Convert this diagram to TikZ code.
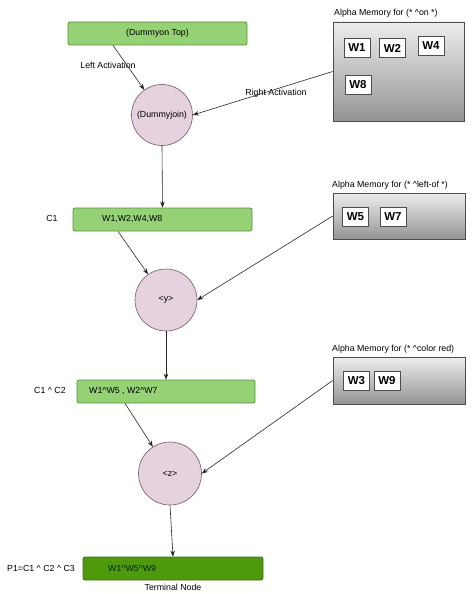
\documentclass[tikz,border=0pt]{standalone}
\usepackage{fontspec}
\setmainfont{Liberation Sans}
\usetikzlibrary{arrows.meta}
\definecolor{lgreen}{HTML}{95D175}
\definecolor{lgreenb}{HTML}{5E8C46}
\definecolor{dgreen}{HTML}{4F9A0C}
\definecolor{dgreenb}{HTML}{3A6E10}
\definecolor{jfill}{HTML}{E6D2DF}
\definecolor{jdraw}{HTML}{6E5A66}
\tikzset{
  txt/.style={font=\fontsize{8.8}{10}\selectfont, inner sep=0pt},
  gbox/.style={draw=lgreenb, fill=lgreen, rounded corners=2pt, line width=0.7pt, minimum height=23pt, inner sep=0pt},
  tbox/.style={draw=dgreenb, fill=dgreen, rounded corners=2pt, line width=0.7pt, minimum height=23pt, inner sep=0pt},
  joinnode/.style={circle, draw=jdraw, fill=jfill, line width=0.6pt, inner sep=0pt},
  amem/.style={draw=black!70, top color=black!7, bottom color=black!42, line width=0.7pt, inner sep=0pt},
  wbox/.style={draw=black!70, fill=white, line width=0.6pt, inner sep=0pt, minimum width=26pt, minimum height=19pt, font=\bfseries\fontsize{11.5}{12}\selectfont},
  conn/.style={draw=black!85, line width=0.6pt, -{Stealth[length=6pt,width=4.5pt]}},
}
\begin{document}
\begin{tikzpicture}[x=1pt,y=-1pt]
\useasboundingbox (0,0) rectangle (474,594);
% top box
\node[gbox, minimum width=179pt] (top) at (157.5,33.5) {};
\node[txt] (toptxt) at (top.center) {(Dummyon Top)};
% join nodes
\node[joinnode, minimum size=61pt] (dj) at (162,115) {};
\node[txt] (djtxt) at (dj.center) {(Dummyjoin)};
\node[joinnode, minimum size=62pt] (yn) at (166,300) {};
\node[txt] (yntxt) at (yn.center) {<y>};
\node[joinnode, minimum size=63pt] (zn) at (170,473.5) {};
\node[txt] (zntxt) at (zn.center) {<z>};
% beta boxes
\node[gbox, minimum width=179pt] (c1) at (162.5,219.5) {};
\node[txt, anchor=west] (c1txt) at (102,219) {W1,W2,W4,W8};
\node[txt] (c1lab) at (52,218) {C1};
\node[gbox, minimum width=178pt] (c2) at (166,391.5) {};
\node[txt, anchor=west] (c2txt) at (89,391) {W1\textasciicircum W5 , W2\textasciicircum W7};
\node[txt] (c2lab) at (50,390) {C1 \textasciicircum{} C2};
\node[tbox, minimum width=180pt] (term) at (173,568.5) {};
\node[txt, anchor=west, text=black!85!green] (termtxt) at (108,568) {W1\textasciicircum W5\textasciicircum W9};
\node[txt] (p1lab) at (41,568) {P1=C1 \textasciicircum{} C2 \textasciicircum{} C3};
\node[txt] (termlab) at (173,587) {Terminal Node};
% labels on connectors
\node[txt] (lact) at (108,65) {Left Activation};
\node[txt] (ract) at (276,93) {Right Activation};
% alpha memories
\node[amem, minimum width=131pt, minimum height=99pt] (a1) at (398.5,71.5) {};
\node[txt, anchor=west] (a1lab) at (334,13.5) {Alpha Memory for (* \textasciicircum on *)};
\node[wbox] (w1) at (357,48) {W1};
\node[wbox] (w2) at (392.5,48) {W2};
\node[wbox] (w4) at (431,45.5) {W4};
\node[wbox] (w8) at (358,84.5) {W8};
\node[amem, minimum width=132pt, minimum height=46pt] (a2) at (399,216) {};
\node[txt, anchor=west] (a2lab) at (332,185) {Alpha Memory for (* \textasciicircum left-of *)};
\node[wbox] (w5) at (355.5,216.5) {W5};
\node[wbox] (w7) at (393,216.5) {W7};
\node[amem, minimum width=132pt, minimum height=47pt] (a3) at (399,380.5) {};
\node[txt, anchor=west] (a3lab) at (332,349) {Alpha Memory for (* \textasciicircum color red)};
\node[wbox] (w3) at (356.5,380.5) {W3};
\node[wbox] (w9) at (387,380.5) {W9};
% connectors
\draw[conn] ([xshift=-44.5pt]top.south) -- (dj);
\draw[conn] (a1.west) -- (dj.east);
\draw[conn] (dj.south) -- (c1.north);
\draw[conn] ([xshift=-44.5pt]c1.south) -- (yn);
\draw[conn] (a2.west) -- (yn.east);
\draw[conn] (yn.south) -- (c2.north);
\draw[conn] ([xshift=-41pt]c2.south) -- (zn);
\draw[conn] (a3.west) -- (zn.east);
\draw[conn] (zn.south) -- (term.north);
\end{tikzpicture}
\end{document}
